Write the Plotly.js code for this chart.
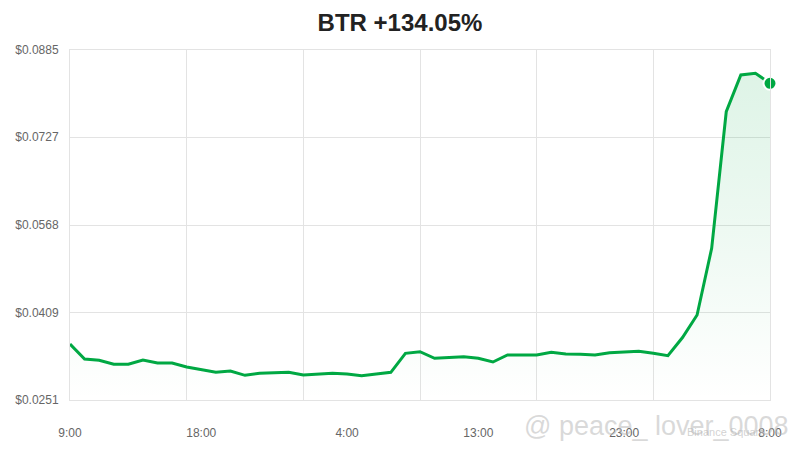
<!DOCTYPE html>
<html>
<head>
<meta charset="utf-8">
<script src="https://cdn.plot.ly/plotly-3.0.1.min.js"></script>
<style>html,body{margin:0;padding:0;background:#fff;}#chart{width:800px;height:450px;}</style>
</head>
<body>
<div id="chart"></div>
<script>
// Hourly index (0..48) and BTR price
const prices = [
  0.03524, 0.03253, 0.03229, 0.03157, 0.03157, 0.03235, 0.03180, 0.03180,
  0.03108, 0.03066, 0.03012, 0.03035, 0.02957, 0.02994, 0.02999, 0.03012,
  0.02963, 0.02981, 0.02994, 0.02981, 0.02950, 0.02981, 0.03012, 0.03356,
  0.03385, 0.03265, 0.03276, 0.03294, 0.03265, 0.03198, 0.03325, 0.03325,
  0.03325, 0.03374, 0.03343, 0.03338, 0.03325, 0.03367, 0.03374, 0.03392,
  0.03356, 0.03312, 0.03642, 0.04050, 0.05258, 0.07732, 0.08397, 0.08428,
  0.08247
];
const steps = prices.map((_, i) => i);
const xTickVals = [0, 9, 19, 28, 38, 48];
const xTickText = ["9:00", "18:00", "4:00", "13:00", "23:00", "8:00"];
const xGridVals = [0, 8, 16, 24, 32, 40, 48];
const yTickVals = [0.0251, 0.0409, 0.0568, 0.0727, 0.0885];
const yTickText = ["$0.0251", "$0.0409", "$0.0568", "$0.0727", "$0.0885"];
const titleText = "BTR +134.05%";
const watermarkText = "@ peace_ lover_0008";
const sourceText = "Binance Square";

const green = "#00a843";
const last = prices.length - 1;

const traces = [
  {
    x: steps, y: prices, type: "scatter", mode: "lines",
    line: {color: green, width: 3},
    fill: "tozeroy",
    fillgradient: {
      type: "vertical", start: yTickVals[0], stop: yTickVals[4],
      colorscale: [[0, "rgba(0,168,67,0.0)"], [1, "rgba(0,168,67,0.14)"]]
    },
    hoverinfo: "skip", xaxis: "x", yaxis: "y"
  },
  {
    x: [steps[last]], y: [prices[last]], type: "scatter", mode: "markers",
    marker: {color: green, size: 13, line: {color: "#ffffff", width: 2}},
    cliponaxis: false,
    hoverinfo: "skip", xaxis: "x", yaxis: "y"
  },
  {
    x: xTickVals, y: xTickVals.map(() => null), type: "scatter", mode: "lines",
    xaxis: "x2", yaxis: "y", hoverinfo: "skip", showlegend: false
  }
];

const layout = {
  width: 800, height: 450,
  margin: {l: 70, r: 30, t: 50, b: 50},
  paper_bgcolor: "#ffffff", plot_bgcolor: "#ffffff",
  showlegend: false,
  font: {family: "Liberation Sans, Arial, sans-serif", color: "#666666", size: 12},
  title: {text: "<b>" + titleText + "</b>", x: 0.5, xanchor: "center", y: 0.95, yanchor: "middle",
          font: {size: 24, color: "#222222", family: "Liberation Sans, Arial, sans-serif"}},
  xaxis: {
    range: [0, 48], tickvals: xGridVals, ticktext: xGridVals.map(() => ""),
    showgrid: true, gridcolor: "#e3e3e3", gridwidth: 1,
    zeroline: false, showline: true, linecolor: "#e3e3e3", linewidth: 1, mirror: true,
    ticks: "", fixedrange: true
  },
  xaxis2: {
    overlaying: "x", range: [0, 48], side: "bottom",
    tickvals: xTickVals, ticktext: xTickText, showgrid: false, zeroline: false,
    showline: false, ticks: "", ticklabelstandoff: 24,
    tickfont: {size: 12, color: "#666666"}
  },
  yaxis: {
    range: [yTickVals[0], yTickVals[4]], tickvals: yTickVals, ticktext: yTickText,
    showgrid: true, gridcolor: "#e3e3e3", gridwidth: 1,
    zeroline: false, showline: true, linecolor: "#e3e3e3", linewidth: 1, mirror: true,
    ticks: "", ticklabelstandoff: 8, tickfont: {size: 12, color: "#666666"}
  },
  annotations: [
    {text: watermarkText, xref: "paper", yref: "paper", x: 1.03, y: -0.075,
     xanchor: "right", yanchor: "middle", showarrow: false,
     font: {size: 27, color: "rgba(180,180,180,0.5)", family: "Liberation Sans, Arial, sans-serif"}},
    {text: sourceText, xref: "paper", yref: "paper", x: 0.995, y: -0.09,
     xanchor: "right", yanchor: "middle", showarrow: false,
     font: {size: 11, color: "rgba(180,180,180,0.6)", family: "Liberation Sans, Arial, sans-serif"}}
  ]
};

Plotly.newPlot("chart", traces, layout, {staticPlot: true, displayModeBar: false});
</script>
</body>
</html>
